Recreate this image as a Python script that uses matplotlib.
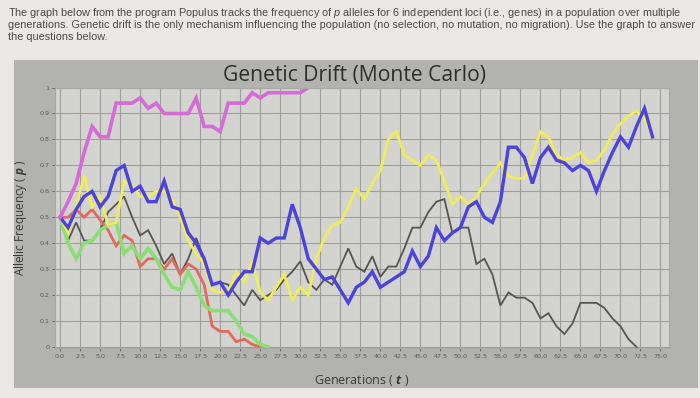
import numpy as np
import matplotlib
matplotlib.use("Agg")
from matplotlib import pyplot as plt
from matplotlib.patches import Rectangle

# allele frequency p per generation
magenta = [0.50, 0.56, 0.63, 0.75, 0.85, 0.81, 0.81, 0.94, 0.94, 0.94, 0.96, 0.92, 0.94, 0.90,
           0.90, 0.90, 0.90, 0.96, 0.85, 0.85, 0.83, 0.94, 0.94, 0.94, 0.98, 0.96, 0.98, 0.98,
           0.98, 0.98, 0.98, 1.00]
blue = [0.50, 0.46, 0.53, 0.58, 0.60, 0.54, 0.58, 0.68, 0.70, 0.60, 0.62, 0.56, 0.56, 0.64,
        0.54, 0.53, 0.44, 0.40, 0.34, 0.24, 0.25, 0.20, 0.25, 0.29, 0.29, 0.42, 0.40, 0.42,
        0.42, 0.55, 0.46, 0.34, 0.30, 0.26, 0.27, 0.22, 0.17, 0.23, 0.25, 0.29, 0.23, 0.25,
        0.27, 0.29, 0.37, 0.31, 0.35, 0.46, 0.41, 0.44, 0.46, 0.54, 0.56, 0.50, 0.48, 0.56,
        0.77, 0.77, 0.73, 0.63, 0.73, 0.77, 0.72, 0.71, 0.68, 0.70, 0.68, 0.60, 0.68, 0.75,
        0.81, 0.77, 0.85, 0.92, 0.81]
yellow = [0.50, 0.44, 0.54, 0.66, 0.54, 0.58, 0.47, 0.48, 0.64, 0.62, 0.58, 0.58, 0.60, 0.60,
          0.57, 0.50, 0.41, 0.36, 0.32, 0.22, 0.21, 0.21, 0.29, 0.25, 0.33, 0.21, 0.18, 0.23,
          0.28, 0.18, 0.23, 0.20, 0.34, 0.42, 0.47, 0.48, 0.54, 0.61, 0.57, 0.63, 0.68, 0.80,
          0.83, 0.74, 0.72, 0.70, 0.74, 0.72, 0.64, 0.55, 0.58, 0.55, 0.58, 0.63, 0.67, 0.71,
          0.66, 0.65, 0.65, 0.74, 0.83, 0.81, 0.74, 0.72, 0.73, 0.75, 0.71, 0.72, 0.76, 0.82,
          0.86, 0.89, 0.91, 0.88, 0.81]
black = [0.50, 0.41, 0.48, 0.41, 0.41, 0.45, 0.52, 0.55, 0.58, 0.50, 0.43, 0.45, 0.39, 0.32,
         0.36, 0.28, 0.34, 0.42, 0.34, 0.24, 0.25, 0.24, 0.20, 0.16, 0.22, 0.18, 0.20, 0.22,
         0.26, 0.29, 0.33, 0.25, 0.22, 0.26, 0.24, 0.31, 0.38, 0.31, 0.29, 0.35, 0.27, 0.31,
         0.31, 0.38, 0.46, 0.46, 0.52, 0.56, 0.57, 0.44, 0.46, 0.46, 0.32, 0.34, 0.28, 0.16,
         0.21, 0.19, 0.19, 0.17, 0.11, 0.13, 0.08, 0.05, 0.09, 0.17, 0.17, 0.17, 0.15, 0.11,
         0.08, 0.03, 0.00]
red = [0.50, 0.50, 0.53, 0.50, 0.53, 0.49, 0.45, 0.39, 0.43, 0.41, 0.31, 0.34, 0.34, 0.30,
       0.34, 0.28, 0.32, 0.30, 0.24, 0.08, 0.06, 0.06, 0.02, 0.03, 0.01, 0.00]
green = [0.50, 0.40, 0.34, 0.40, 0.41, 0.45, 0.47, 0.48, 0.36, 0.39, 0.34, 0.38, 0.34, 0.28,
         0.23, 0.22, 0.29, 0.23, 0.16, 0.14, 0.14, 0.14, 0.10, 0.05, 0.04, 0.01, 0.00]

x_ticks = np.arange(0, 75.1, 2.5)
y_ticks = np.arange(0, 1.01, 0.1)

plt.rcParams['mathtext.fontset'] = 'custom'
plt.rcParams['mathtext.it'] = 'Liberation Sans:italic'
plt.rcParams['mathtext.bf'] = 'Open Sans:bold:italic'

fig = plt.figure(figsize=(7.0, 3.98), dpi=100)
fig.patch.set_facecolor('#e9e8e6')

# grey panel the chart sits in
fig.patches.append(Rectangle((0.02, 0.025), 0.977, 0.825, transform=fig.transFigure,
                             facecolor='#b2b2af', edgecolor='none', zorder=-10))

intro = [
    r"The graph below from the program Populus tracks the frequency of $p$ alleles for 6 independent loci (i.e., genes) in a population over multiple",
    "generations. Genetic drift is the only mechanism influencing the population (no selection, no mutation, no migration). Use the graph to answer",
    "the questions below.",
]
for i, line in enumerate(intro):
    fig.text(0.012, 0.968 - i * 0.031, line, fontsize=7.8, family='Liberation Sans',
             color='#4a4a4a', va='center', ha='left')

ax = fig.add_axes([0.079, 0.125, 0.876, 0.655])
ax.set_facecolor('#d3d3d0')

series = [
    (black, '#555553', 1.3),
    (red, '#e06a5c', 2.0),
    (green, '#8ade74', 2.6),
    (yellow, '#f0ec5c', 2.0),
    (blue, '#4c43dc', 2.4),
    (magenta, '#d66ad6', 2.6),
]
for values, colour, lw in series:
    ax.plot(np.arange(len(values)), values, color=colour, lw=lw, solid_joinstyle='miter')

ax.set_xlim(-0.6, 76)
ax.set_ylim(-0.005, 1.0)
ax.set_xticks(x_ticks)
ax.set_xticklabels([f'{t:.1f}' for t in x_ticks])
ax.set_yticks(y_ticks)
ax.set_yticklabels(['0'] + [f'{t:.1f}' for t in y_ticks[1:-1]] + ['1'])
ax.tick_params(labelsize=4.6, colors='#5a5a5a', length=2, width=0.6, pad=2)
ax.grid(True, color='#9e9e9c', lw=0.8)
ax.set_axisbelow(True)
for side in ax.spines:
    ax.spines[side].set_color('#a8a8a6')
    ax.spines[side].set_linewidth(0.8)

fig.text(0.507, 0.81, 'Genetic Drift (Monte Carlo)', fontsize=15.2, family='Open Sans',
         color='#2e2e2e', ha='center', va='center')
ax.set_xlabel(r'Generations ( $\mathbf{t}$ )', fontsize=9, family='Open Sans',
              color='#3a3a3a', labelpad=10)
ax.set_ylabel(r'Allelic Frequency ( $\mathbf{p}$ )', fontsize=8.5, family='Open Sans',
              color='#3a3a3a', labelpad=8)

fig.savefig('out.png', dpi=100, facecolor=fig.get_facecolor())
